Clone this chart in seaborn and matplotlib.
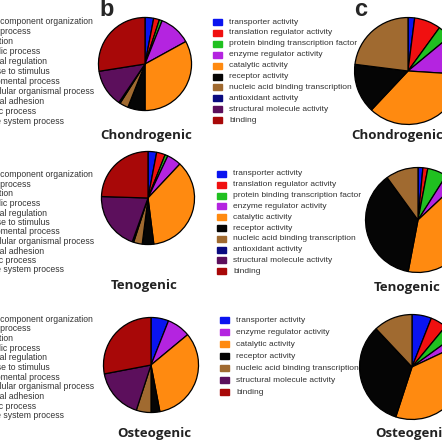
import matplotlib
matplotlib.use("Agg")
import matplotlib.pyplot as plt
import seaborn as sns

sns.set_theme(style="white")
plt.rcParams['font.family'] = ['Liberation Sans', 'DejaVu Sans']

W = H = 442

bp_terms = ["cellular component organization", "cellular process", "localization",
            "metabolic process", "biological regulation", "response to stimulus",
            "developmental process", "multicellular organismal process",
            "biological adhesion", "rhythmic process", "immune system process"]

mf_terms = ["transporter activity", "translation regulator activity",
            "protein binding transcription factor", "enzyme regulator activity",
            "catalytic activity", "receptor activity", "nucleic acid binding transcription",
            "antioxidant activity", "structural molecule activity", "binding"]
mf_colors = ["#0a14f0", "#f01010", "#20c020", "#b424e0", "#ff8a10",
             "#050505", "#a06a30", "#0a0a80", "#5c0f5c", "#a80808"]

osteo_terms = ["transporter activity", "enzyme regulator activity", "catalytic activity",
               "receptor activity", "nucleic acid binding transcription",
               "structural molecule activity", "binding"]

# panel b values (percent, order of mf_terms / osteo_terms)
b_chondro = [3, 2, 1, 11, 33, 6, 3, 0.5, 13, 27.5]
b_teno = [3, 3, 1, 5, 36, 4, 3, 0.5, 20, 24.5]
b_osteo = [6, 8, 33, 3, 5, 17, 28]

# panel c values (first seven categories)
c_chondro = [2, 8, 4, 12, 36, 15, 23]
c_teno = [1.5, 1.5, 6, 4, 40, 37, 10]
c_osteo = [6, 5, 4, 3, 37, 33, 12]

fig = plt.figure(figsize=(W / 100, H / 100), dpi=100)


def px(x, y):
    return x / W, 1 - y / H


def pie(cx, cy, r, vals, cols):
    ax = fig.add_axes([(cx - r) / W, 1 - (cy + r) / H, 2 * r / W, 2 * r / H])
    ax.pie(vals, colors=cols, startangle=90, counterclock=False,
           wedgeprops=dict(edgecolor="black", linewidth=0.9))
    ax.set_xlim(-1.01, 1.01)
    ax.set_ylim(-1.01, 1.01)
    ax.set_aspect("equal")
    ax.axis("off")


def text_col(x, y0, step, labels, size=6.2):
    for i, t in enumerate(labels):
        fig.text(*px(x, y0 + i * step), t, fontsize=size, color="#333333",
                 ha="left", va="center")


def legend_col(x, y0, step, labels, cols):
    for i, (t, c) in enumerate(zip(labels, cols)):
        y = y0 + i * step
        fig.patches.append(plt.Rectangle(px(x, y + 3), 9 / W, 6 / H, color=c,
                                         transform=fig.transFigure, figure=fig))
        fig.text(*px(x + 16, y), t, fontsize=6.0, color="#333333", ha="left", va="center")


# left column (cropped biological process lists)
text_col(-30, 22, 9.9, bp_terms)
text_col(-30, 175, 9.5, bp_terms)
text_col(-30, 319, 9.7, bp_terms)
fig.text(*px(88, 174), "-", fontsize=5, color="#666666", ha="center", va="center")
fig.text(*px(85, 318), ".", fontsize=5, color="#666666", ha="center", va="center")

# panel b
pie(145, 64, 47, b_chondro, mf_colors)
pie(148, 198, 47, b_teno, mf_colors)
osteo_cols = [mf_colors[mf_terms.index(t)] for t in osteo_terms]
pie(151, 365, 48, b_osteo, osteo_cols)

legend_col(213, 22, 10.9, mf_terms, mf_colors)
legend_col(217, 174, 10.8, mf_terms, mf_colors)
legend_col(220, 320, 12, osteo_terms, osteo_cols)

# panel c
pie(408, 71, 54, c_chondro, mf_colors[:7])
pie(418, 220, 53, c_teno, mf_colors[:7])
pie(412, 367, 53, c_osteo, mf_colors[:7])

for x, y, t in [(146, 136, "Chondrogenic"), (144, 285, "Tenogenic"), (154, 434, "Osteogenic"),
                (397, 136, "Chondrogenic"), (407, 288, "Tenogenic"), (412, 434, "Osteogenic")]:
    fig.text(*px(x, y), t, fontsize=9.5, fontweight="bold", ha="center", va="center",
             family=["Open Sans", "DejaVu Sans"], color="#222222")

fig.text(*px(107, 10), "b", fontsize=17, fontweight="bold", ha="center", va="center")
fig.text(*px(361, 10), "c", fontsize=17, fontweight="bold", ha="center", va="center")

fig.savefig("out.png", dpi=100)
